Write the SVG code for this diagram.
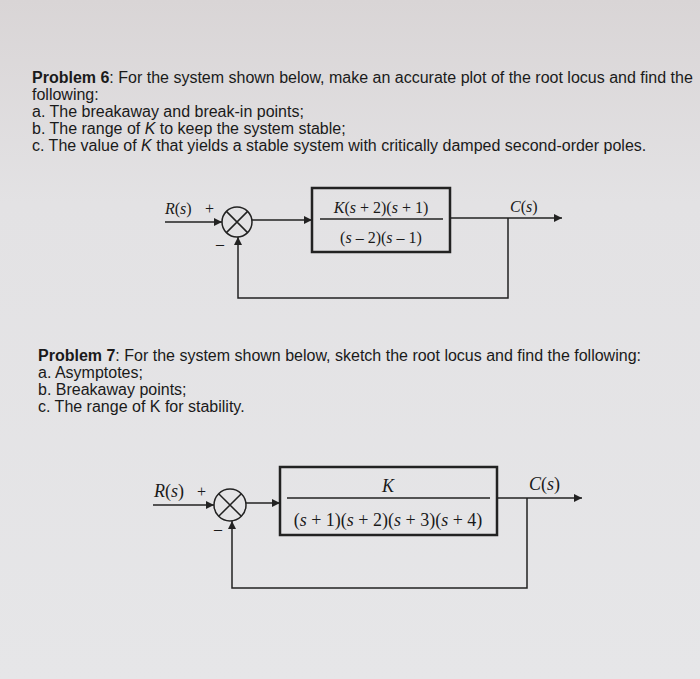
<svg xmlns="http://www.w3.org/2000/svg" width="700" height="679" viewBox="0 0 700 679">
<defs>
<marker id="ah" viewBox="0 0 10 10" refX="10" refY="5" markerWidth="13" markerHeight="8" orient="auto" markerUnits="userSpaceOnUse"><path d="M0,0 L10,5 L0,10 z" fill="#222"/></marker>
<linearGradient id="bg" x1="0" y1="0" x2="0" y2="1"><stop offset="0" stop-color="#d9d5d6"/><stop offset="0.3" stop-color="#e3e2e4"/><stop offset="1" stop-color="#e6e6e8"/></linearGradient>
</defs>
<style>
.t{font-family:"Liberation Sans",Arial,sans-serif;font-size:16px;fill:#1a1a1a}
.m{font-family:"Liberation Serif","Times New Roman",serif;font-size:16px;fill:#1a1a1a}
.m2{font-size:18px}
.l{stroke:#222;stroke-width:1.5;fill:none}
.b{stroke:#222;stroke-width:2.5;fill:none}
</style>
<rect width="700" height="679" fill="url(#bg)"/>
<g id="text1">
<text class="t" x="32" y="83"><tspan font-weight="bold">Problem 6</tspan>: For the system shown below, make an accurate plot of the root locus and find the</text>
<text class="t" x="32" y="100">following:</text>
<text class="t" x="32" y="117">a.  The breakaway and break-in points;</text>
<text class="t" x="32" y="134">b.  The range of <tspan font-style="italic">K</tspan> to keep the system stable;</text>
<text class="t" x="32" y="151">c.  The value of <tspan font-style="italic">K</tspan> that yields a stable system with critically damped second-order poles.</text>
</g>
<g id="sum1"><circle class="l" cx="237" cy="222" r="15"/><path class="l" d="M226.4,211.4 L247.6,232.6 M247.6,211.4 L226.4,232.6"/>
<text class="m" x="165" y="214"><tspan font-style="italic">R</tspan>(<tspan font-style="italic">s</tspan>)</text>
<text class="m" x="205" y="214">+</text><text class="m" x="216" y="249">–</text></g>
<g id="block1"><rect class="b" x="312" y="188" width="138" height="64"/>
<line class="l" x1="320" y1="219" x2="443" y2="219" stroke-width="1"/>
<text class="m" x="381" y="213" text-anchor="middle"><tspan font-style="italic">K</tspan>(<tspan font-style="italic">s</tspan> + 2)(<tspan font-style="italic">s</tspan> + 1)</text>
<text class="m" x="381" y="243" text-anchor="middle">(<tspan font-style="italic">s</tspan> – 2)(<tspan font-style="italic">s</tspan> – 1)</text></g>
<g id="out1"><text class="m" x="510" y="212"><tspan font-style="italic">C</tspan>(<tspan font-style="italic">s</tspan>)</text></g>
<g id="connectors1">
<line class="l" x1="165" y1="222" x2="222" y2="222" marker-end="url(#ah)"/>
<line class="l" x1="252" y1="220" x2="312" y2="220" marker-end="url(#ah)"/>
<line class="l" x1="450" y1="218" x2="562" y2="218" marker-end="url(#ah)"/>
<polyline class="l" points="508,218 508,298 238,298 238,237" marker-end="url(#ah)"/>
</g>
<g id="text2">
<text class="t" x="38" y="361"><tspan font-weight="bold">Problem 7</tspan>: For the system shown below, sketch the root locus and find the following:</text>
<text class="t" x="38" y="378">a.  Asymptotes;</text>
<text class="t" x="38" y="395">b.  Breakaway points;</text>
<text class="t" x="38" y="412">c.  The range of K for stability.</text>
</g>
<g id="sum2"><circle class="l" cx="230" cy="505" r="16"/><path class="l" d="M218.7,493.7 L241.3,516.3 M241.3,493.7 L218.7,516.3"/>
<text class="m m2" x="154" y="497"><tspan font-style="italic">R</tspan>(<tspan font-style="italic">s</tspan>)</text>
<text class="m" x="197" y="497">+</text><text class="m" x="214" y="534">–</text></g>
<g id="block2"><rect class="b" x="280" y="467" width="217" height="68"/>
<line class="l" x1="287" y1="498" x2="490" y2="498" stroke-width="1"/>
<text class="m m2" x="388" y="492" text-anchor="middle" font-style="italic">K</text>
<text class="m m2" x="388" y="526" text-anchor="middle">(<tspan font-style="italic">s</tspan> + 1)(<tspan font-style="italic">s</tspan> + 2)(<tspan font-style="italic">s</tspan> + 3)(<tspan font-style="italic">s</tspan> + 4)</text></g>
<g id="out2"><text class="m m2" x="529" y="490"><tspan font-style="italic">C</tspan>(<tspan font-style="italic">s</tspan>)</text></g>
<g id="connectors2">
<line class="l" x1="153" y1="505" x2="214" y2="505" marker-end="url(#ah)"/>
<line class="l" x1="246" y1="503" x2="280" y2="503" marker-end="url(#ah)"/>
<line class="l" x1="497" y1="498" x2="582" y2="498" marker-end="url(#ah)"/>
<polyline class="l" points="527,498 527,588 232,588 232,521" marker-end="url(#ah)"/>
</g>
</svg>
